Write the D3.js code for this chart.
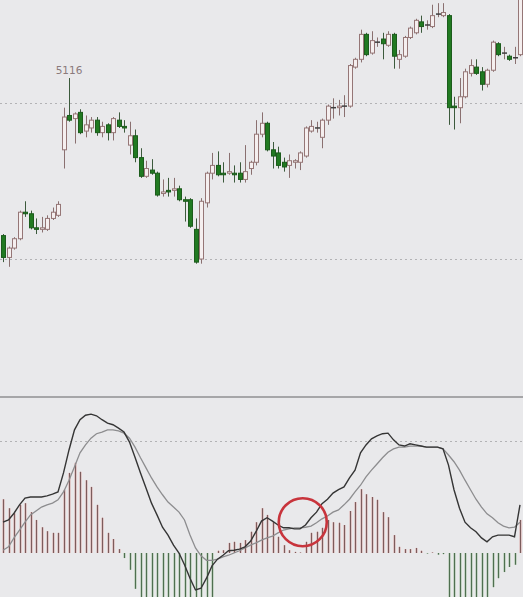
<!DOCTYPE html>
<html>
<head>
<meta charset="utf-8">
<script src="https://cdn.jsdelivr.net/npm/d3@7"></script>
<style>
body { margin: 0; background: #e9e9eb; overflow: hidden; }
</style>
</head>
<body>
<script>
// daily candles (price points), one entry per bar
var open  = [5015,5001,5007,5013,5030,5029,5020,5019,5019,5026,5028,5070,5092,5090,5094,5082,5084,5089,5081,5086,
             5081,5089,5085,5073,5079,5065,5053,5057,5055,5042,5044,5044,5045,5038,5038,5019,5000,5036,5055,5060,
             5055,5055,5055,5055,5051,5058,5062,5080,5087,5070,5068,5062,5060,5062,5062,5066,5082,5084,5078,5089,
             5097,5097,5098,5098,5123,5128,5144,5132,5139,5141,5137,5144,5128,5130,5142,5145,5152,5150,5149,5157,
             5156,5156,5098,5097,5104,5119,5123,5120,5112,5121,5138,5132,5130,5129,5131];
var high  = [5016,5008,5014,5031,5037,5031,5026,5027,5028,5033,5037,5097,5116,5094,5096,5092,5091,5091,5088,5087,
             5091,5094,5089,5088,5083,5071,5063,5064,5056,5051,5052,5052,5047,5040,5039,5026,5039,5056,5068,5069,
             5062,5068,5060,5062,5073,5063,5089,5094,5088,5075,5072,5065,5067,5064,5069,5085,5089,5088,5090,5099,
             5103,5102,5105,5125,5129,5147,5145,5146,5142,5145,5146,5145,5134,5143,5149,5154,5156,5153,5163,5164,
             5164,5157,5104,5116,5122,5128,5128,5123,5122,5140,5139,5136,5131,5136,5172];
var low   = [4998,4995,5006,5012,5027,5019,5016,5017,5018,5025,5027,5058,5088,5074,5080,5078,5081,5079,5078,5076,
             5076,5084,5081,5067,5062,5052,5052,5054,5040,5040,5040,5040,5037,5024,5020,4997,4997,5033,5051,5053,
             5049,5054,5049,5049,5049,5054,5060,5078,5069,5058,5058,5056,5052,5058,5057,5065,5081,5081,5071,5086,
             5090,5092,5091,5097,5122,5126,5130,5131,5136,5128,5136,5122,5122,5129,5141,5144,5145,5147,5148,5155,
             5155,5086,5083,5087,5103,5117,5118,5108,5110,5120,5130,5128,5127,5125,5130];
var close = [5001,5007,5013,5030,5029,5020,5019,5020,5026,5030,5035,5091,5089,5093,5081,5086,5089,5081,5085,5081,
             5090,5085,5084,5079,5065,5053,5058,5055,5041,5043,5043,5045,5038,5037,5021,4998,5037,5055,5060,5054,
             5054,5056,5054,5051,5056,5062,5080,5087,5070,5066,5060,5059,5063,5063,5068,5084,5085,5084,5089,5098,
             5097,5098,5098,5124,5128,5144,5131,5140,5139,5138,5144,5130,5131,5142,5148,5153,5149,5150,5156,5157,
             5158,5097,5097,5104,5120,5124,5119,5112,5121,5139,5131,5132,5128,5129,5168];

// macd panel
var macd   = [5.5,5.9,7.1,8.6,9.8,10.0,10.0,10.0,10.2,10.5,10.9,14.3,18.4,22.0,23.8,24.6,24.8,24.5,23.8,23.2,
              22.9,22.3,21.6,19.8,17.1,14.3,11.6,8.9,6.8,4.6,3.2,1.4,0.0,-2.1,-4.5,-6.6,-6.3,-4.5,-2.3,-1.1,
              -0.4,0.4,0.5,0.7,1.1,2.1,3.8,5.7,6.3,5.7,5.0,4.5,4.5,4.3,4.3,5.0,6.3,7.3,8.8,9.6,
              10.7,11.3,11.8,13.4,14.8,17.9,19.3,20.4,20.9,21.3,21.4,20.2,19.3,19.1,19.5,19.3,19.1,18.9,18.9,18.9,
              18.6,15.7,11.3,8.0,5.5,4.5,3.8,2.7,2.0,2.9,3.2,3.2,3.2,2.9,8.6];
var signal = [0.5,1.1,2.7,4.1,5.5,6.8,7.5,8.2,8.6,8.9,9.5,10.9,13.0,15.4,17.9,19.3,20.5,21.3,21.6,22.0,
              22.0,21.8,21.4,20.5,18.9,17.0,15.2,13.4,11.8,10.4,9.1,8.2,7.3,5.9,3.2,0.9,-0.5,-1.3,-1.3,-1.1,
              -0.7,-0.4,0.0,0.4,0.9,1.4,1.8,2.3,2.7,3.0,3.6,4.1,4.3,4.5,4.5,4.6,4.8,5.4,6.1,6.6,
              7.3,7.7,8.6,9.6,10.9,12.1,13.6,14.8,15.9,17.0,18.0,18.6,18.9,18.9,19.1,19.1,19.1,18.9,18.9,18.9,
              18.6,17.5,16.3,14.8,13.0,11.3,9.6,8.2,7.0,6.3,5.4,4.8,4.5,4.6,5.5];
var hist   = [9.6,8.0,7.1,8.6,8.9,7.3,5.9,4.6,3.9,3.6,3.6,11.3,14.3,16.1,14.5,13.0,11.8,8.6,6.3,3.6,
              2.5,0.7,-0.9,-3.0,-6.4,-9.3,-11.1,-12.9,-14.6,-15.5,-15.5,-15.5,-15.5,-17.3,-19.1,-17.3,-13.8,-10.2,-8.0,0.4,
              0.5,1.8,2.0,1.8,2.3,3.8,5.5,8.0,6.8,5.5,2.9,1.4,0.5,0.2,0.1,2.0,3.6,3.8,4.5,5.9,
              5.5,5.4,5.0,7.5,9.1,11.4,10.5,10.0,9.5,7.3,6.4,3.2,1.1,0.7,0.7,0.9,0.4,-0.1,0.1,-0.3,
              -0.2,-12.0,-19.1,-22.7,-24.5,-22.7,-19.1,-15.5,-10.2,-6.1,-4.5,-3.4,-2.5,-2.1,5.9];

var priceGrid = [5000, 5100];   // dotted levels, no labels on the picture
var macdGrid = [20];
var markIndex = 12;             // bar carrying the "5116" high label
var crossIndex = 54;            // circled macd / signal crossover
var crossValue = 5.5;

var width = 523,
	height = 597;

var svg = d3.select('body')
	.append('svg')
	.attr('width', width)
	.attr('height', height);

var idx = d3.range(close.length);

// band centres land every 5.5px starting at x=3
var x = d3.scaleBand()
	.domain(idx)
	.range([0.25, 522.75])
	.paddingInner(0.25)
	.paddingOuter(0.125);
var cx = function(i) { return x(i) + x.bandwidth() / 2; };

var y = d3.scaleLinear().domain([5000, 5100]).range([259, 103]);
var ym = d3.scaleLinear().domain([0, 20]).range([553, 441]);

var defs = svg.append('defs');
defs.append('clipPath').attr('id', 'clipTop')
	.append('rect').attr('x', 0).attr('y', 0).attr('width', width).attr('height', 396);
defs.append('clipPath').attr('id', 'clipBot')
	.append('rect').attr('x', 0).attr('y', 399).attr('width', width).attr('height', height - 399);

// grid
svg.append('g').selectAll('line')
	.data(priceGrid)
	.enter().append('line')
	.attr('x1', 0).attr('x2', width)
	.attr('y1', function(d) { return Math.round(y(d)) + 0.5; })
	.attr('y2', function(d) { return Math.round(y(d)) + 0.5; })
	.attr('stroke', '#b3b3b5')
	.attr('stroke-dasharray', '2,3');

svg.append('g').selectAll('line')
	.data(macdGrid)
	.enter().append('line')
	.attr('x1', 0).attr('x2', width)
	.attr('y1', function(d) { return Math.round(ym(d)) + 0.5; })
	.attr('y2', function(d) { return Math.round(ym(d)) + 0.5; })
	.attr('stroke', '#b3b3b5')
	.attr('stroke-dasharray', '2,3');

// panel separator
svg.append('line')
	.attr('x1', 0).attr('x2', width)
	.attr('y1', 397).attr('y2', 397)
	.attr('stroke', '#a6a6a8')
	.attr('stroke-width', 2);

//////// candles
var candles = svg.append('g')
	.attr('clip-path', 'url(#clipTop)')
	.selectAll('g')
	.data(idx)
	.enter().append('g');

candles.append('line')
	.attr('x1', function(i) { return Math.round(cx(i)) + 0.5; })
	.attr('x2', function(i) { return Math.round(cx(i)) + 0.5; })
	.attr('y1', function(i) { return y(high[i]); })
	.attr('y2', function(i) { return y(low[i]); })
	.attr('stroke', function(i) { return close[i] < open[i] ? '#3c5a3c' : '#8a7070'; })
	.attr('stroke-width', 1);

candles.filter(function(i) { return close[i] !== open[i]; })
	.append('rect')
	.attr('x', function(i) { return Math.round(cx(i)) - 1.5; })
	.attr('width', 4)
	.attr('y', function(i) { return y(Math.max(open[i], close[i])); })
	.attr('height', function(i) { return Math.max(1, Math.abs(y(open[i]) - y(close[i]))); })
	.attr('fill', function(i) { return close[i] < open[i] ? '#217a21' : '#f5efef'; })
	.attr('stroke', function(i) { return close[i] < open[i] ? '#1c5c1c' : '#957676'; })
	.attr('stroke-width', 1);

// doji: just a dark tick
candles.filter(function(i) { return close[i] === open[i]; })
	.append('line')
	.attr('x1', function(i) { return Math.round(cx(i)) - 2; })
	.attr('x2', function(i) { return Math.round(cx(i)) + 3; })
	.attr('y1', function(i) { return y(close[i]); })
	.attr('y2', function(i) { return y(close[i]); })
	.attr('stroke', '#3e3e3e')
	.attr('stroke-width', 1.5);

svg.append('text')
	.attr('x', cx(markIndex))
	.attr('y', y(high[markIndex]) - 4)
	.attr('text-anchor', 'middle')
	.attr('font-family', 'DejaVu Sans')
	.attr('font-size', 10.5)
	.attr('fill', '#8a7a7b')
	.text(d3.format('d')(high[markIndex]));

//////// macd
var bottom = svg.append('g').attr('clip-path', 'url(#clipBot)');

// soft halo under each histogram bar, then the bar itself
bottom.append('g').selectAll('line')
	.data(idx)
	.enter().append('line')
	.attr('x1', function(i) { return Math.round(cx(i)) + 0.5; })
	.attr('x2', function(i) { return Math.round(cx(i)) + 0.5; })
	.attr('y1', ym(0))
	.attr('y2', function(i) { return ym(hist[i]); })
	.attr('stroke', function(i) { return hist[i] >= 0 ? '#ecd4d4' : '#d3dfd3'; })
	.attr('stroke-width', 3);

bottom.append('g').selectAll('line')
	.data(idx)
	.enter().append('line')
	.attr('x1', function(i) { return Math.round(cx(i)) + 0.5; })
	.attr('x2', function(i) { return Math.round(cx(i)) + 0.5; })
	.attr('y1', ym(0))
	.attr('y2', function(i) { return ym(hist[i]); })
	.attr('stroke', function(i) { return hist[i] >= 0 ? '#7c5c5c' : '#4f6f50'; })
	.attr('stroke-width', 1.2);

var line = function(values) {
	return d3.line()
		.x(function(i) { return cx(i); })
		.y(function(i) { return ym(values[i]); })(idx);
};

bottom.append('path')
	.attr('d', line(signal))
	.attr('fill', 'none')
	.attr('stroke', '#8d8d8f')
	.attr('stroke-width', 1.3);

bottom.append('path')
	.attr('d', line(macd))
	.attr('fill', 'none')
	.attr('stroke', '#353535')
	.attr('stroke-width', 1.4);

// highlighted crossover
svg.append('circle')
	.attr('cx', cx(crossIndex) + x.step() / 2)
	.attr('cy', ym(crossValue))
	.attr('r', 24)
	.attr('fill', 'none')
	.attr('stroke', '#c8343c')
	.attr('stroke-width', 2.6);
</script>
</body>
</html>
